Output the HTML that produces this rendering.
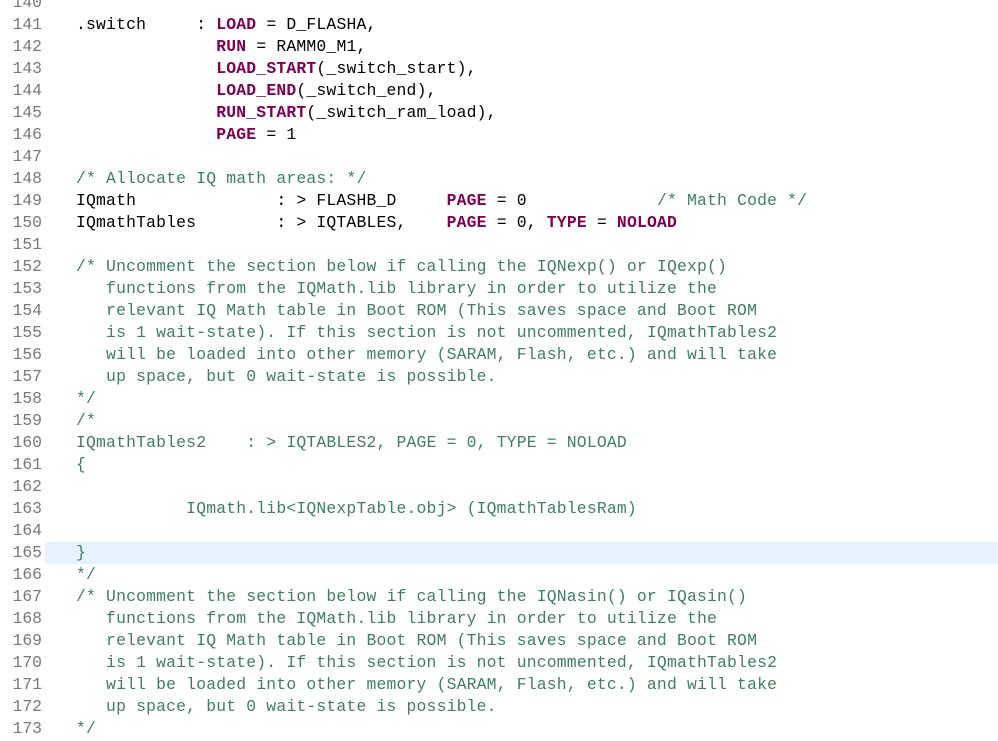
<!DOCTYPE html>
<html><head><meta charset="utf-8"><style>
html,body{margin:0;padding:0;background:#fff;width:998px;height:741px;overflow:hidden}
.wrap{position:relative;width:998px;height:741px}
.row{position:absolute;left:0;height:22px;width:998px;font-family:"Liberation Mono",monospace;font-size:16.4px;line-height:22px;white-space:pre;letter-spacing:0.18px}
.ln{position:absolute;left:0;width:42px;text-align:right;color:#787878;letter-spacing:0}
.code{position:absolute;left:76px;color:#000}
.k{color:#7f0055;font-weight:bold}
.c{color:#3f7f5f}
.hl{background:#e8f2fe}
</style></head><body><div class="wrap">
<div class="row" style="top:-8px"><span class="ln">140</span></div>
<div class="row" style="top:14px"><span class="ln">141</span><span class="code">.switch     : <span class="k">LOAD</span> = D_FLASHA,</span></div>
<div class="row" style="top:36px"><span class="ln">142</span><span class="code">              <span class="k">RUN</span> = RAMM0_M1,</span></div>
<div class="row" style="top:58px"><span class="ln">143</span><span class="code">              <span class="k">LOAD_START</span>(_switch_start),</span></div>
<div class="row" style="top:80px"><span class="ln">144</span><span class="code">              <span class="k">LOAD_END</span>(_switch_end),</span></div>
<div class="row" style="top:102px"><span class="ln">145</span><span class="code">              <span class="k">RUN_START</span>(_switch_ram_load),</span></div>
<div class="row" style="top:124px"><span class="ln">146</span><span class="code">              <span class="k">PAGE</span> = 1</span></div>
<div class="row" style="top:146px"><span class="ln">147</span></div>
<div class="row" style="top:168px"><span class="ln">148</span><span class="code c">/* Allocate IQ math areas: */</span></div>
<div class="row" style="top:190px"><span class="ln">149</span><span class="code">IQmath              : &gt; FLASHB_D     <span class="k">PAGE</span> = 0             <span class="c">/* Math Code */</span></span></div>
<div class="row" style="top:212px"><span class="ln">150</span><span class="code">IQmathTables        : &gt; IQTABLES,    <span class="k">PAGE</span> = 0, <span class="k">TYPE</span> = <span class="k">NOLOAD</span></span></div>
<div class="row" style="top:234px"><span class="ln">151</span></div>
<div class="row" style="top:256px"><span class="ln">152</span><span class="code c">/* Uncomment the section below if calling the IQNexp() or IQexp()</span></div>
<div class="row" style="top:278px"><span class="ln">153</span><span class="code c">   functions from the IQMath.lib library in order to utilize the</span></div>
<div class="row" style="top:300px"><span class="ln">154</span><span class="code c">   relevant IQ Math table in Boot ROM (This saves space and Boot ROM</span></div>
<div class="row" style="top:322px"><span class="ln">155</span><span class="code c">   is 1 wait-state). If this section is not uncommented, IQmathTables2</span></div>
<div class="row" style="top:344px"><span class="ln">156</span><span class="code c">   will be loaded into other memory (SARAM, Flash, etc.) and will take</span></div>
<div class="row" style="top:366px"><span class="ln">157</span><span class="code c">   up space, but 0 wait-state is possible.</span></div>
<div class="row" style="top:388px"><span class="ln">158</span><span class="code c">*/</span></div>
<div class="row" style="top:410px"><span class="ln">159</span><span class="code c">/*</span></div>
<div class="row" style="top:432px"><span class="ln">160</span><span class="code c">IQmathTables2    : &gt; IQTABLES2, PAGE = 0, TYPE = NOLOAD</span></div>
<div class="row" style="top:454px"><span class="ln">161</span><span class="code c">{</span></div>
<div class="row" style="top:476px"><span class="ln">162</span></div>
<div class="row" style="top:498px"><span class="ln">163</span><span class="code c">           IQmath.lib&lt;IQNexpTable.obj&gt; (IQmathTablesRam)</span></div>
<div class="row" style="top:520px"><span class="ln">164</span></div>
<div class="row" style="top:542px"><div class="hl" style="position:absolute;left:45px;top:0;width:953px;height:22px"></div><span class="ln">165</span><span class="code c">}</span></div>
<div class="row" style="top:564px"><span class="ln">166</span><span class="code c">*/</span></div>
<div class="row" style="top:586px"><span class="ln">167</span><span class="code c">/* Uncomment the section below if calling the IQNasin() or IQasin()</span></div>
<div class="row" style="top:608px"><span class="ln">168</span><span class="code c">   functions from the IQMath.lib library in order to utilize the</span></div>
<div class="row" style="top:630px"><span class="ln">169</span><span class="code c">   relevant IQ Math table in Boot ROM (This saves space and Boot ROM</span></div>
<div class="row" style="top:652px"><span class="ln">170</span><span class="code c">   is 1 wait-state). If this section is not uncommented, IQmathTables2</span></div>
<div class="row" style="top:674px"><span class="ln">171</span><span class="code c">   will be loaded into other memory (SARAM, Flash, etc.) and will take</span></div>
<div class="row" style="top:696px"><span class="ln">172</span><span class="code c">   up space, but 0 wait-state is possible.</span></div>
<div class="row" style="top:718px"><span class="ln">173</span><span class="code c">*/</span></div>
</div></body></html>
